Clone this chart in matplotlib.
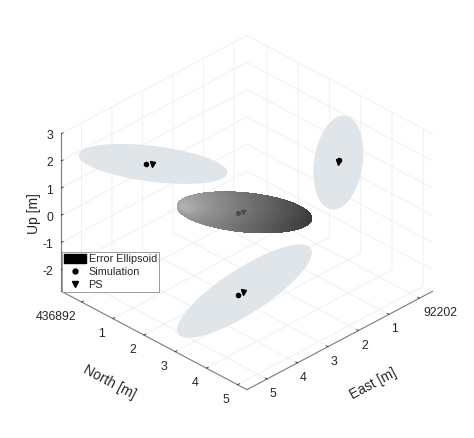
import numpy as np
import matplotlib
matplotlib.use("Agg")
import matplotlib.pyplot as plt
import matplotlib.transforms as mtransforms
from matplotlib.patches import Patch
from matplotlib.lines import Line2D
from mpl_toolkits.mplot3d.art3d import Poly3DCollection

plt.rcParams['font.family'] = ['Liberation Sans', 'DejaVu Sans']

# Data (metres, relative to the reference coordinates in the tick labels)
east_ticks = [0, 1, 2, 3, 4, 5]
north_ticks = [0, 1, 2, 3, 4, 5]
up_ticks = [-2, -1, 0, 1, 2, 3]
east_labels = ['92202', '1', '2', '3', '4', '5']
north_labels = ['436892', '1', '2', '3', '4', '5']
up_labels = ['-2', '-1', '0', '1', '2', '3']
east_lim = [-0.43, 5.66]
north_lim = [-0.65, 5.3]
up_lim = [-2.8, 3.0]
simulation = [2.88, 2.31, 0.22]
ps = [2.70, 2.27, 0.12]
ellipsoid_center = [2.65, 2.28, 0.1]
ellipsoid_cov = [[5.96, 0.85, 4.32],
                 [0.85, 0.64, 0.67],
                 [4.32, 0.67, 3.57]]

TEXT = '#262626'
WALL = '#dfe5e9'
GRID = '#f0f0f0'
AXLINE = '#7a7a7a'

fig = plt.figure(figsize=(4.74, 4.38), dpi=100)
ax = fig.add_axes([0.0085, 0.0013, 1, 1], projection='3d', proj_type='ortho',
                  computed_zorder=False)
ax.view_init(elev=32, azim=45)
ax.set_box_aspect((1, 1, 0.708), zoom=0.92)
ax.set_xlim(east_lim)
ax.set_ylim(north_lim)
ax.set_zlim(up_lim)

ax.set_xticks(east_ticks, east_labels, fontsize=8.8, color=TEXT, va='center')
ax.set_yticks(north_ticks, north_labels, fontsize=8.8, color=TEXT, va='center')
ax.set_zticks(up_ticks, up_labels, fontsize=8.8, color=TEXT, ha='right')
ax.xaxis.get_ticklabels()[0].set_ha('left')
ax.yaxis.get_ticklabels()[0].set_ha('right')
ax.set_xlabel('East [m]', fontsize=10, color=TEXT, labelpad=6)
ax.set_ylabel('North [m]', fontsize=10, color=TEXT, labelpad=6)
ax.set_zlabel('Up [m]', fontsize=10, color=TEXT, labelpad=2)
ax.zaxis.set_ticks_position('lower')
ax.zaxis.set_label_position('lower')


def nudge(text, dx, dy):
    """Shift a 3D-axis text by a few pixels (Axis3D resets its transform at draw time)."""
    shifted = ax.transData + mtransforms.Affine2D().translate(dx, dy)
    text.get_transform = lambda: shifted


nudge(ax.yaxis.label, -14, 0)
nudge(ax.xaxis.label, 3, -1)
nudge(ax.zaxis.label, 25, -1)
for i, tick in enumerate(ax.yaxis.get_major_ticks()):
    nudge(tick.label1, 4 if i == 0 else -2.5, -2.5)
for i, tick in enumerate(ax.xaxis.get_major_ticks()):
    nudge(tick.label1, -5 if i == 0 else -3, -2.5)
for tick in ax.zaxis.get_major_ticks():
    nudge(tick.label1, 1, 3.5)

for axis in (ax.xaxis, ax.yaxis, ax.zaxis):
    axis.set_pane_color((1, 1, 1, 0))
    axis.pane.set_edgecolor((1, 1, 1, 0))
    axis.line.set_color(AXLINE)
    axis.line.set_linewidth(0.8)
    axis._axinfo['grid'].update(color=GRID, linewidth=0.7)
    axis._axinfo['tick'].update(inward_factor=0.0, outward_factor=0.12,
                                linewidth={True: 0.6, False: 0.4}, color=AXLINE)
ax.tick_params(axis='both', pad=0, colors=TEXT)
ax.tick_params(axis='z', pad=-4)

c = np.array(ellipsoid_center, float)
L = np.linalg.cholesky(np.array(ellipsoid_cov, float))

# Shadows of the ellipsoid on the three back planes
t = np.linspace(0, 2 * np.pi, 240)


def outline(i, j):
    S = np.array(ellipsoid_cov, float)[np.ix_([i, j], [i, j])]
    pts = np.linalg.cholesky(S) @ np.vstack([np.cos(t), np.sin(t)])
    return c[i] + pts[0], c[j] + pts[1]


e, n = outline(0, 1)
floor = np.column_stack([e, n, np.full_like(e, up_lim[0])])
e, u = outline(0, 2)
wall_n = np.column_stack([e, np.full_like(e, north_lim[0]), u])
n, u = outline(1, 2)
wall_e = np.column_stack([np.full_like(n, east_lim[0]), n, u])
ax.add_collection3d(Poly3DCollection([floor, wall_n, wall_e], facecolors=WALL,
                                     edgecolors='none', zorder=2))

# Ellipsoid surface
th = np.linspace(0, np.pi, 70)
ph = np.linspace(0, 2 * np.pi, 140)
TH, PH = np.meshgrid(th, ph)
unit = np.stack([np.sin(TH) * np.cos(PH), np.sin(TH) * np.sin(PH), np.cos(TH)], axis=-1)
P = unit @ L.T + c
nrm = unit @ np.linalg.inv(L)
nrm /= np.linalg.norm(nrm, axis=-1, keepdims=True)
light = np.array([0.55, 0.15, 0.82])
light /= np.linalg.norm(light)
diff = np.clip(nrm @ light, 0, 1)
along = np.clip((P[..., 1] - P[..., 0] + 2.3) / 4.6, 0, 1)
gray = np.clip(0.70 - 0.40 * along - 0.12 * (1 - diff), 0.22, 0.78)
face = np.dstack([gray, gray, gray, np.ones_like(gray)])
ax.plot_surface(P[..., 0], P[..., 1], P[..., 2], facecolors=face, shade=False,
                rstride=1, cstride=1, linewidth=0, antialiased=False, zorder=3)

# Markers: in the ellipsoid (seen through it) and their wall shadows
ax.plot(*[[v] for v in simulation], 'o', ms=2.6, color='#4a4a4a', zorder=4)
ax.plot(*[[v] for v in ps], 'v', ms=3, color='#4a4a4a', zorder=4)
for pt, mk, ms in ((simulation, 'o', 3), (ps, 'v', 3.6)):
    ax.plot([pt[0]], [pt[1]], [up_lim[0]], mk, ms=ms, color='k', zorder=5)
    ax.plot([pt[0]], [north_lim[0]], [pt[2]], mk, ms=ms, color='k', zorder=5)
    ax.plot([east_lim[0]], [pt[1]], [pt[2]], mk, ms=ms, color='k', zorder=5)

handles = [Patch(facecolor='k', edgecolor='k', label='Error Ellipsoid'),
           Line2D([], [], ls='none', marker='o', ms=3.5, color='k', label='Simulation'),
           Line2D([], [], ls='none', marker='v', ms=4, color='k', label='PS')]
leg = fig.legend(handles=handles, loc='lower left',
                 bbox_to_anchor=(61.5 / 474, 1 - 292 / 438), bbox_transform=fig.transFigure,
                 fontsize=7.8, fancybox=False, framealpha=1, edgecolor='#9a9a9a',
                 borderpad=0.2, labelspacing=0.25, handlelength=2.1, handleheight=0.85,
                 handletextpad=0.2, borderaxespad=0)
leg.get_frame().set_linewidth(0.7)
for txt in leg.get_texts():
    txt.set_color(TEXT)

fig.savefig('out.png', dpi=100)
